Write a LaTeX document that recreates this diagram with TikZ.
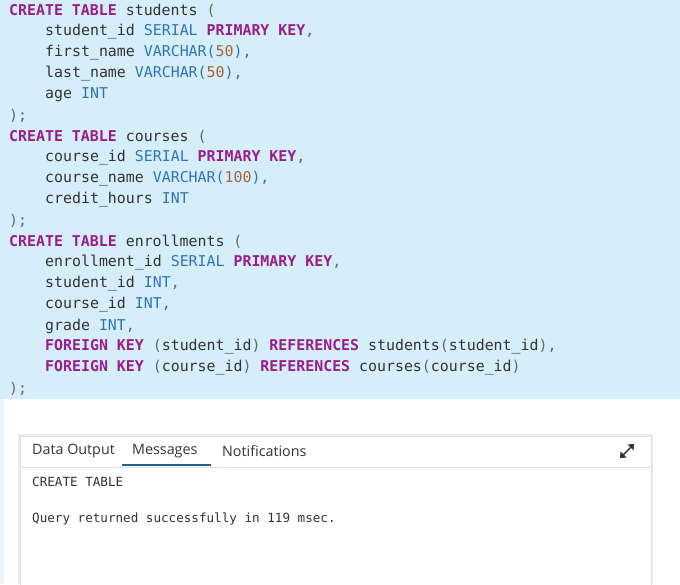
\documentclass[tikz,border=0pt]{standalone}
\usetikzlibrary{arrows.meta}
\usepackage{fontspec}
\setmonofont{DejaVu Sans Mono}
\newfontfamily\uifont{Open Sans}
\definecolor{bgc}{HTML}{D6EEFA}
\definecolor{kw}{HTML}{9A1D8C}
\definecolor{ty}{HTML}{2F75B5}
\definecolor{nm}{HTML}{A0663A}
\definecolor{tx}{HTML}{333333}
\definecolor{pn}{HTML}{666666}
\newcommand{\Kw}[1]{\textcolor{kw}{\textbf{#1}}}
\newcommand{\Ty}[1]{\textcolor{ty}{#1}}
\newcommand{\Nm}[1]{\textcolor{nm}{#1}}
\newcommand{\Pn}[1]{\textcolor{pn}{#1}}
\begin{document}
\begin{tikzpicture}[x=1pt,y=-1pt,
 code/.style={anchor=west,inner sep=0pt,font=\ttfamily\fontsize{14.9}{16}\selectfont,text=tx},
 tab/.style={anchor=west,inner sep=0pt,font=\uifont\fontsize{14.3}{16}\selectfont,text=tx},
 msg/.style={anchor=west,inner sep=0pt,font=\ttfamily\fontsize{12.6}{14}\selectfont,text=tx}]
\useasboundingbox (0,0) rectangle (680,584);
\fill[white] (0,0) rectangle (680,584);
\fill[bgc] (0,0) rectangle (680,399);
\fill[bgc!60] (0,399) rectangle (4,584);
\node[code] (l1) at (9,11) {\Kw{CREATE TABLE} students \Pn{(}};
\node[code] (l2) at (45,32) {student\_id \Ty{SERIAL} \Kw{PRIMARY KEY}\Pn{,}};
\node[code] (l3) at (45,53) {first\_name \Ty{VARCHAR(}\Nm{50}\Ty{)}\Pn{,}};
\node[code] (l4) at (45,74) {last\_name \Ty{VARCHAR(}\Nm{50}\Ty{)}\Pn{,}};
\node[code] (l5) at (45,95) {age \Ty{INT}};
\node[code] (l6) at (9,116) {\Pn{);}};
\node[code] (l7) at (9,137) {\Kw{CREATE TABLE} courses \Pn{(}};
\node[code] (l8) at (45,158) {course\_id \Ty{SERIAL} \Kw{PRIMARY KEY}\Pn{,}};
\node[code] (l9) at (45,179) {course\_name \Ty{VARCHAR(}\Nm{100}\Ty{)}\Pn{,}};
\node[code] (l10) at (45,200) {credit\_hours \Ty{INT}};
\node[code] (l11) at (9,221) {\Pn{);}};
\node[code] (l12) at (9,242) {\Kw{CREATE TABLE} enrollments \Pn{(}};
\node[code] (l13) at (45,263) {enrollment\_id \Ty{SERIAL} \Kw{PRIMARY KEY}\Pn{,}};
\node[code] (l14) at (45,284) {student\_id \Ty{INT}\Pn{,}};
\node[code] (l15) at (45,305) {course\_id \Ty{INT}\Pn{,}};
\node[code] (l16) at (45,326) {grade \Ty{INT}\Pn{,}};
\node[code] (l17) at (45,347) {\Kw{FOREIGN KEY} \Pn{(}student\_id\Pn{)} \Kw{REFERENCES} students\Pn{(}student\_id\Pn{),}};
\node[code] (l18) at (45,368) {\Kw{FOREIGN KEY} \Pn{(}course\_id\Pn{)} \Kw{REFERENCES} courses\Pn{(}course\_id\Pn{)}};
\node[code] (l19) at (9,389) {\Pn{);}};
% panel
\fill[black!8] (18,434) rectangle (653,584);
\fill[white,draw=black!12] (20,436) rectangle (651,586);
\draw[black!12] (20,467) -- (651,467);
\node[tab] (t1) at (32,451) {Data Output};
\node[tab] (t2) at (132,451) {Messages};
\node[tab] (t3) at (222,451) {Notifications};
\draw[color=ty!80!black,line width=2.5pt] (122,465) -- (211,465);
\node[msg] (m1) at (32,482) {CREATE TABLE};
\node[msg] (m2) at (32,519) {Query returned successfully in 119 msec.};
\coordinate (ia) at (621,457); \coordinate (ib) at (633,445);
\draw[line width=1.4pt,tx] (622.5,455.5) -- (631.5,446.5);
\fill[tx] (634,444) -- (627.5,444.5) -- (633.5,450.5) -- cycle;
\fill[tx] (620,458) -- (626.5,457.5) -- (620.5,451.5) -- cycle;
\end{tikzpicture}
\end{document}
